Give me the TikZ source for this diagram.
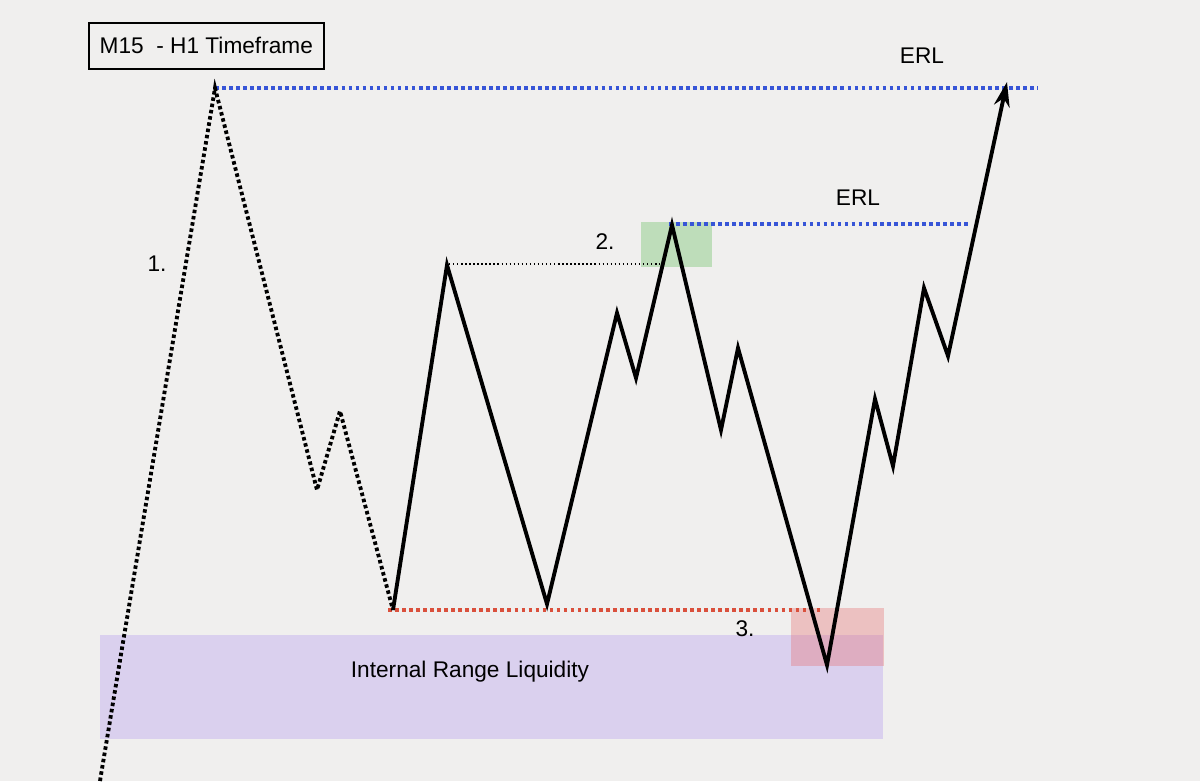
\documentclass[tikz,border=0pt]{standalone}
\usepackage{fontspec}
\setmainfont{Liberation Sans}
\usetikzlibrary{arrows.meta}
\definecolor{bg}{RGB}{240,239,238}
\definecolor{irl}{RGB}{218,208,238}
\definecolor{fvg}{RGB}{190,221,186}
\definecolor{obred}{RGB}{230,110,110}
\definecolor{erlblue}{RGB}{55,85,215}
\definecolor{sslred}{RGB}{218,80,60}
\tikzset{
  lbl/.style={font=\fontsize{12.9}{15}\selectfont, text=black, inner sep=0pt},
  bluedots/.style={draw=erlblue, line width=2.1pt, dash pattern=on 2.1pt off 1.9pt},
  reddots/.style={draw=sslred, line width=2.1pt, dash pattern=on 2.1pt off 1.9pt},
  blackdots/.style={draw=black, line width=2.2pt, dash pattern=on 2pt off 1.6pt},
  finedots/.style={draw=black, line width=0.7pt, dash pattern=on 0.8pt off 1.5pt},
  pricepath/.style={draw=black, line width=2.2pt, line join=miter},
}
\begin{document}
\begin{tikzpicture}[x=0.02cm, y=-0.02cm]
\fill[bg] (0,0) rectangle (1200,781);
\useasboundingbox (0,0) rectangle (1200,781);

% zones
\fill[irl] (100,635) rectangle (883,739);
\fill[fvg] (641,222) rectangle (712,267);
\fill[obred, fill opacity=0.35] (791,608) rectangle (884,666);

% points
\coordinate (p0) at (100,781);
\coordinate (p1) at (215,88);
\coordinate (p2) at (317,490);
\coordinate (p3) at (340,411);
\coordinate (p4) at (393,610);
\coordinate (p5) at (447,265);
\coordinate (p6) at (547,604);
\coordinate (p7) at (617,313);
\coordinate (p8) at (636,378);
\coordinate (p9) at (672,225);
\coordinate (p10) at (721,430);
\coordinate (p11) at (738,348);
\coordinate (p12) at (827,665);
\coordinate (p13) at (875,399);
\coordinate (p14) at (893,466);
\coordinate (p15) at (924,288);
\coordinate (p16) at (948,356);
\coordinate (p17) at (1007,82);

\coordinate (erltopend) at (1038,88);
\coordinate (erlmidend) at (968,224);
\coordinate (erlmidstart) at (669,224);
\coordinate (sslend) at (823,610);
\coordinate (sslstart) at (388,610);
\coordinate (finestart) at (449,264);
\coordinate (fineend) at (660,264);

% level lines
\draw[bluedots] (p1) -- (erltopend);
\draw[bluedots] (erlmidstart) -- (erlmidend);
\draw[reddots] (sslstart) -- (sslend);
\draw[finedots] (finestart) -- (fineend);

% price
\draw[blackdots] (p0) -- (p1) -- (p2) -- (p3) -- (p4);
\draw[pricepath, -{Stealth[length=14pt, width=9pt]}] (p4) -- (p5) -- (p6) -- (p7) -- (p8) -- (p9) -- (p10) -- (p11) -- (p12) -- (p13) -- (p14) -- (p15) -- (p16) -- (p17);

% labels
\node[draw=black, line width=0.9pt, minimum width=235*0.02cm, minimum height=46*0.02cm, anchor=north west, inner sep=0pt] (tf) at (88,22) {};
\node[lbl] (tftext) at (tf.center) {M15\ \ - H1 Timeframe};
\node[lbl] (erltop) at (922,56) {ERL};
\node[lbl] (erlmid) at (858,198) {ERL};
\node[lbl] (one) at (157,264) {1.};
\node[lbl] (two) at (605,242) {2.};
\node[lbl] (three) at (745,629) {3.};
\node[lbl] (irltext) at (470,672) {Internal Range Liquidity};
\end{tikzpicture}
\end{document}
